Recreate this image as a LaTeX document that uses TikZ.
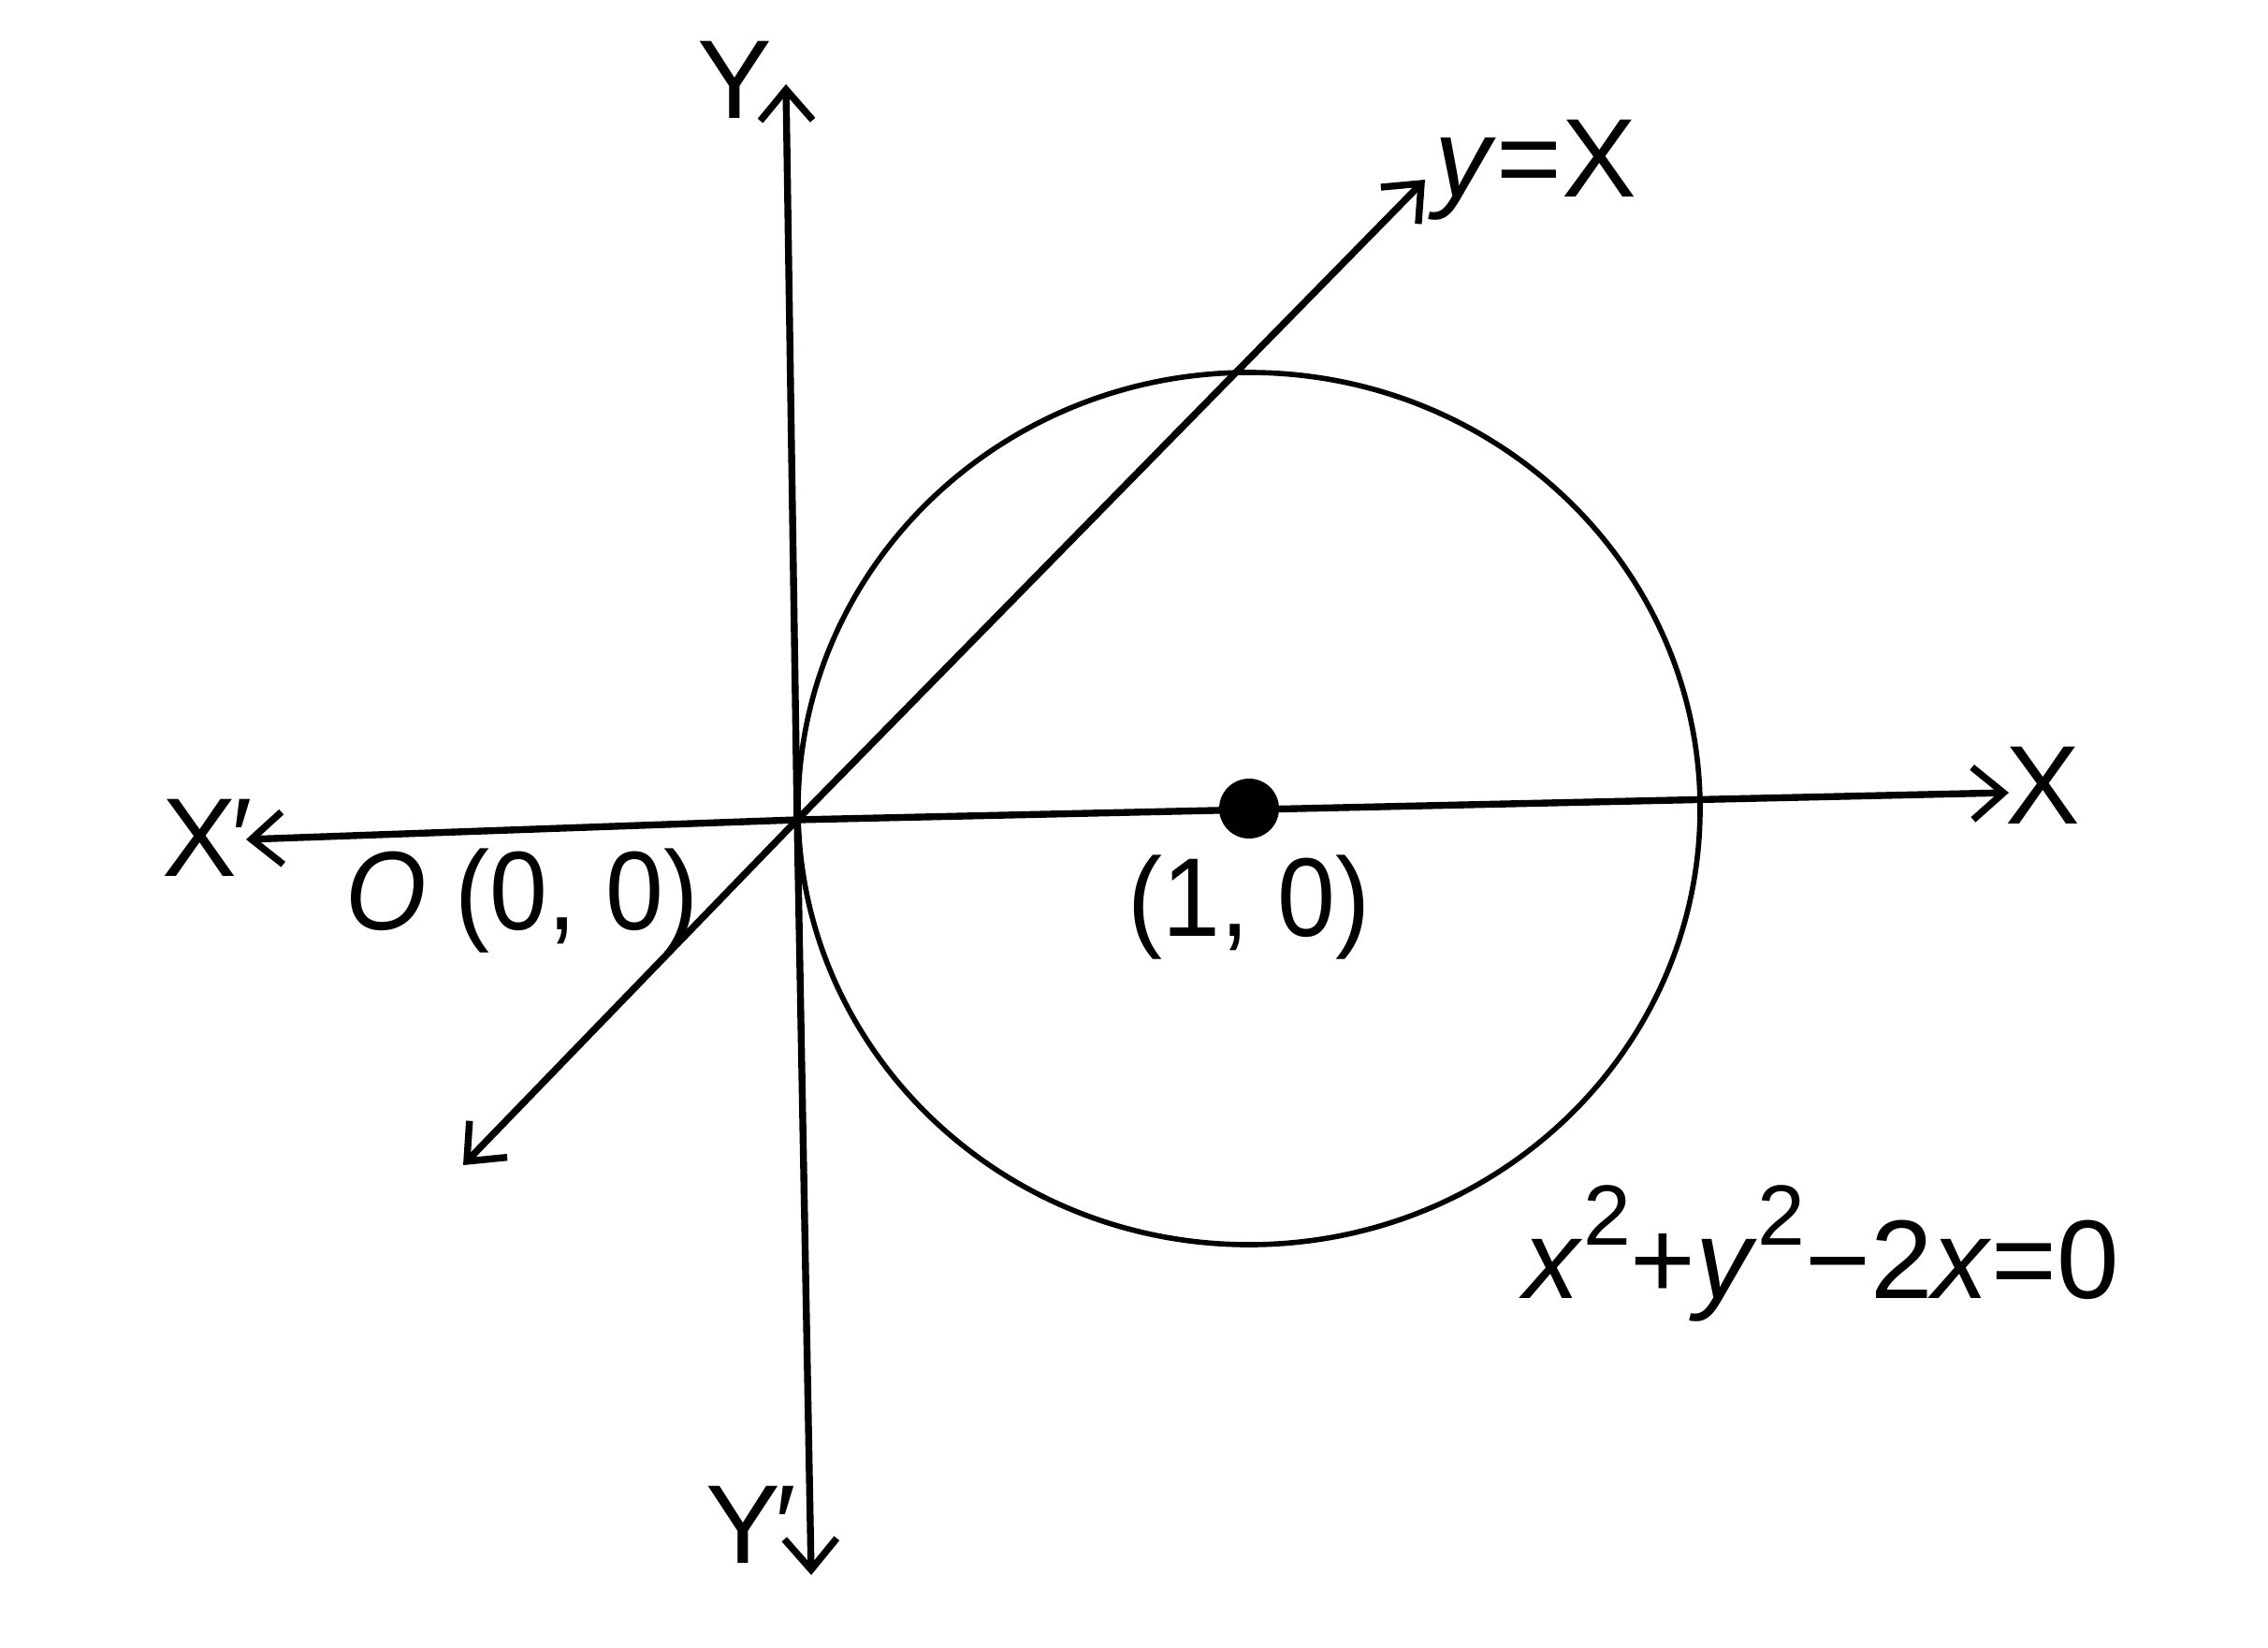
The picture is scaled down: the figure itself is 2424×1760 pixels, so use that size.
\documentclass[tikz,border=0pt]{standalone}
\usepackage{fontspec}
\setmainfont{Liberation Sans}
\usepackage{graphicx}
\usepackage{tikz}
\usetikzlibrary{arrows.meta,positioning}

\newcommand{\narrow}[2]{\scalebox{#1}[1]{#2}}
\newcommand{\sq}[1]{\raisebox{0.47em}{\fontsize{26pt}{26pt}\selectfont #1}}

\begin{document}
\begin{tikzpicture}[x=0.01cm, y=-0.01cm,
  every node/.style={inner sep=0pt, font=\fontsize{34pt}{40pt}\selectfont},
  axis/.style={line width=2.1pt, -{Straight Barb[length=3.3mm, width=5.6mm]}},
  curve/.style={line width=1.6pt}]
  \useasboundingbox (0,0) rectangle (2424,1760);
  % axes and line ends
  \coordinate (O) at (852,876);
  \coordinate (xend) at (2147,847);
  \coordinate (xbeg) at (263,897);
  \coordinate (yend) at (840,90);
  \coordinate (ybeg) at (867,1683);
  \coordinate (lend) at (1523,192);
  \coordinate (lbeg) at (495,1245);
  \coordinate (C) at (1335,864);
  \draw[axis] (O) -- (xend);
  \draw[axis] (O) -- (xbeg);
  \draw[axis] (O) -- (yend);
  \draw[axis] (O) -- (ybeg);
  \draw[axis] (O) -- (lend);
  \draw[axis] (O) -- (lbeg);
  \draw[curve] (C) ellipse [x radius=482, y radius=466];
  \fill (C) circle (32);
  % labels
  \node (ylab) at (785,85) {Y};
  \node (yplab) at (803,1629) {Y\kern-0.05em′};
  \node (xlab) at (2183,839) {X};
  \node (xplab) at (222,895) {X\kern-0.05em′};
  \node (linelab) [anchor=base west] at (1533,210) {\textit{y}=X};
  \node (olab) at (558,963) {\narrow{0.93}{\textit{O} (0, 0)}};
  \node (clab) at (1335,970) {\narrow{0.93}{(1, 0)}};
  \node (eqlab) [anchor=base west] at (1628,1387)
    {\textit{x}\sq{2}+\textit{y}\sq{2}−2\textit{x}=0};
\end{tikzpicture}
\end{document}
